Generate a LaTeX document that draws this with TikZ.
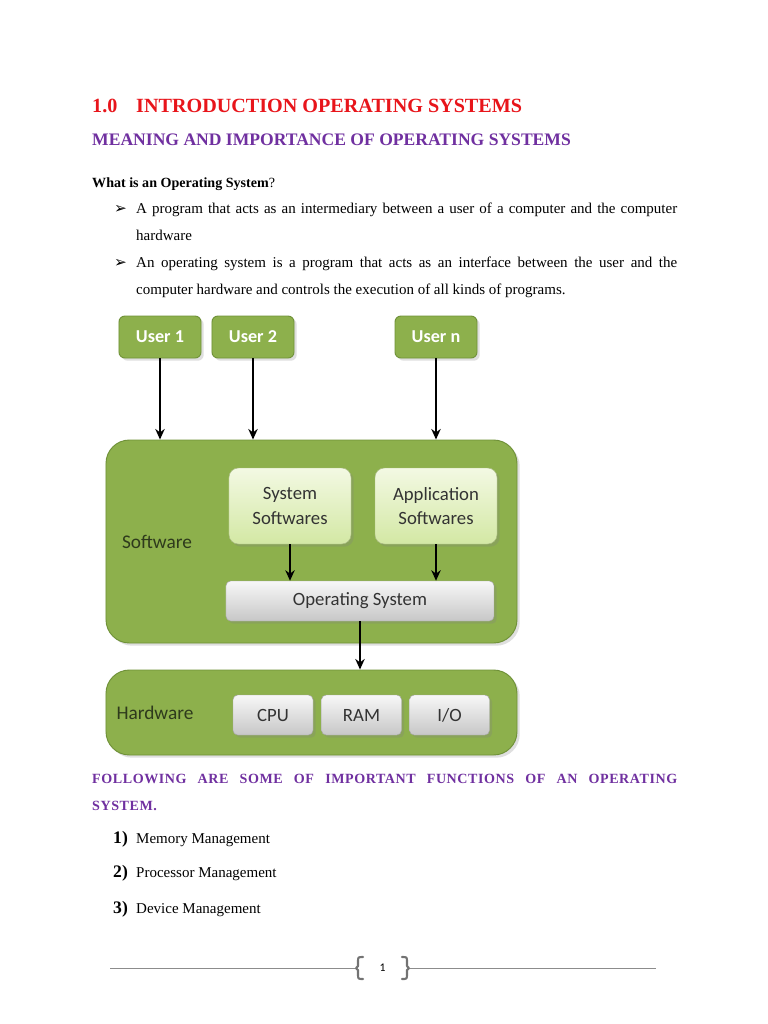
\documentclass[tikz,border=0pt]{standalone}
\usepackage{fontspec}
\setmainfont{Liberation Serif}
\newfontfamily\diagfont{Carlito}
\newfontfamily\symfont{DejaVu Sans}
\usetikzlibrary{shadows,arrows.meta}

\definecolor{titlered}{HTML}{E8151B}
\definecolor{headpurple}{HTML}{7030A0}
\definecolor{boxgreen}{HTML}{8DB04C}
\definecolor{edgegreen}{HTML}{6F9138}
\definecolor{lightgreen}{HTML}{F3F9E3}
\definecolor{palegreen}{HTML}{D3E8A4}
\definecolor{labeldark}{HTML}{2E3A1C}

\begin{document}
\begin{tikzpicture}[
        x = 0.03cm, y = -0.03cm,
        line join=round,
        txt/.style = {anchor=base west, inner sep=0pt},
        body/.style = {txt, font=\fontsize{12.8}{15}\selectfont},
        userbox/.style = {draw=edgegreen, fill=boxgreen, rounded corners=5pt, line width=0.8pt,
            minimum width=2.46cm, minimum height=1.26cm, text=white,
            font=\diagfont\fontsize{15.5}{17}\selectfont\bfseries, drop shadow={opacity=0.25}},
        layerbox/.style = {draw=edgegreen, fill=boxgreen, rounded corners=20pt, line width=0.8pt,
            minimum width=12.33cm, drop shadow={opacity=0.25}},
        softbox/.style = {draw=palegreen!80!black, top color=lightgreen, bottom color=palegreen,
            rounded corners=8pt, minimum width=3.66cm, minimum height=2.28cm, align=center,
            text=black!80, font=\diagfont\fontsize{16}{21}\selectfont, drop shadow={opacity=0.25}},
        greybox/.style = {draw=black!35, top color=black!3, bottom color=black!22,
            rounded corners=4pt, minimum height=1.2cm, text=black!80,
            font=\diagfont\fontsize{16}{18}\selectfont, drop shadow={opacity=0.25}},
        arr/.style = {-{Stealth[length=9pt,width=8pt]}, line width=1.5pt, black}
    ]

    \useasboundingbox (0,0) rectangle (768,1024);
    \fill[white] (0,0) rectangle (768,1024);

    % headings
    \node[txt, text=titlered, font=\fontsize{17.2}{19}\selectfont\bfseries] (num) at (92,112) {1.0};
    \node[txt, text=titlered, font=\fontsize{17.2}{19}\selectfont\bfseries] (title) at (136,112) {INTRODUCTION OPERATING SYSTEMS};
    \node[txt, text=headpurple, font=\fontsize{15}{17}\selectfont\bfseries] (sub) at (92,145) {MEANING AND IMPORTANCE OF OPERATING SYSTEMS};

    \node[txt, font=\fontsize{12}{14}\selectfont] (what) at (92,187) {\textbf{What is an Operating System}?};

    % bullets
    \foreach \y in {213, 267} {
        \node[txt, font=\symfont\fontsize{13}{14}\selectfont] at (114,\y) {➢};
    }
    \node[body] (b1) at (136,213)
        {\makebox[16.23cm][s]{A program that acts as an intermediary between a user of a computer and the computer}};
    \node[body] (b1b) at (136,240) {hardware};
    \node[body] (b2) at (136,267)
        {\makebox[16.23cm][s]{An operating system is a program that acts as an interface between the user and the}};
    \node[body] (b2b) at (136,294) {computer hardware and controls the execution of all kinds of programs.};

    % diagram
    \node[layerbox, minimum height=6.09cm] (soft) at (311.5,541.5) {};
    \node[layerbox, minimum height=2.55cm] (hard) at (311.5,712.5) {};

    \node[userbox] (u1) at (160,337) {User 1};
    \node[userbox] (u2) at (253,337) {User 2};
    \node[userbox] (un) at (436,337) {User n};

    \node[softbox] (sys) at (290,506) {System\\Softwares};
    \node[softbox] (app) at (436,506) {Application\\Softwares};
    \node[greybox, minimum width=8.04cm] (os) at (360,601) {Operating System};

    \node[greybox, minimum width=2.4cm] (cpu) at (273,715) {CPU};
    \node[greybox, minimum width=2.4cm] (ram) at (361.5,715) {RAM};
    \node[greybox, minimum width=2.4cm] (io) at (449.5,715) {I/O};

    \node[text=labeldark, font=\diagfont\fontsize{16.5}{18}\selectfont] (swlab) at (157,542) {Software};
    \node[text=labeldark, font=\diagfont\fontsize{16.5}{18}\selectfont] (hwlab) at (155,713) {Hardware};

    \foreach \u in {u1, u2, un} {
        \draw[arr] (\u.south) -- (\u.south |- soft.north);
    }
    \draw[arr] (sys.south) -- (sys.south |- os.north);
    \draw[arr] (app.south) -- (app.south |- os.north);
    \draw[arr] (os.south) -- (os.south |- hard.north);

    % functions
    \node[txt, text=headpurple, font=\fontsize{12}{14}\selectfont\bfseries\addfontfeature{LetterSpace=4}] (fol) at (92,783)
        {\makebox[17.55cm][s]{FOLLOWING ARE SOME OF IMPORTANT FUNCTIONS OF AN OPERATING}};
    \node[txt, text=headpurple, font=\fontsize{12}{14}\selectfont\bfseries\addfontfeature{LetterSpace=4}] (fol2) at (92,810) {SYSTEM.};

    \foreach \n/\y/\t in {1/843/Memory Management, 2/877/Processor Management, 3/913/Device Management} {
        \node[txt, font=\fontsize{15}{17}\selectfont\bfseries] (f\n) at (113,\y) {\n)};
        \node[body] at (136,\y) {\t};
    }

    % page footer
    \coordinate (fl) at (110,968);
    \coordinate (fr) at (656,968);
    \draw[black!45, line width=0.8pt] (fl) -- (357,968);
    \draw[black!45, line width=0.8pt] (409,968) -- (fr);
    \draw[black!55, line width=1.8pt, line cap=round] (363,957) .. controls (358,957) .. (358,962) -- (358,966) -- (356,968) -- (358,970) -- (358,974) .. controls (358,979) .. (363,979);
    \draw[black!55, line width=1.8pt, line cap=round] (402,957) .. controls (407,957) .. (407,962) -- (407,966) -- (409,968) -- (407,970) -- (407,974) .. controls (407,979) .. (402,979);
    \node[font=\diagfont\fontsize{10}{12}\selectfont] (pg) at (382.5,968) {1};

\end{tikzpicture}
\end{document}
